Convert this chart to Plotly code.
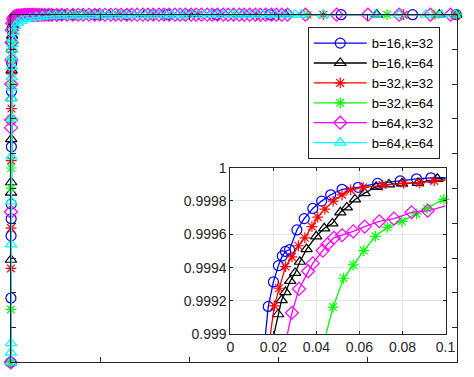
import plotly.graph_objects as go

# ---------------- data ----------------
series_names = ["b=16,k=32", "b=16,k=64", "b=32,k=32", "b=32,k=64", "b=64,k=32", "b=64,k=64"]

b16k32_x = [0, 0.0003, 0.0006, 0.0008, 0.001, 0.0013, 0.0016, 0.002, 0.0025, 0.0035, 0.005, 0.008, 0.011, 0.0150,
            0.0176, 0.0200, 0.0223, 0.0241, 0.0256, 0.0275, 0.0309, 0.0343, 0.0383, 0.0424, 0.0466, 0.0519, 0.0594,
            0.0684, 0.0789, 0.0865, 0.0932,
            0.11, 0.14, 0.19, 0.26, 0.35, 0.46, 0.58, 0.74, 0.90, 0.998]
b16k32_y = [0, 0.185, 0.364, 0.413, 0.455, 0.62, 0.78, 0.86, 0.92, 0.96, 0.98, 0.993, 0.9973, 0.99883,
            0.999167, 0.999314, 0.999412, 0.99947, 0.999497, 0.999508, 0.999626, 0.999694, 0.999755, 0.999799,
            0.999837, 0.99987, 0.999882, 0.999905, 0.99992, 0.999933, 0.999939,
            0.99995, 0.99996, 0.99997, 0.99998, 0.99998, 0.99999, 0.99999, 0.999993, 0.999996, 0.999999]

b16k64_x = [0, 0.0003, 0.0006, 0.0008, 0.001, 0.0014, 0.0018, 0.0023, 0.003, 0.0045, 0.007, 0.011, 0.0150, 0.0185,
            0.0222, 0.0238, 0.0256, 0.0278, 0.0301, 0.0323, 0.0354, 0.0399, 0.0436, 0.0474, 0.0511, 0.0541, 0.0579,
            0.0624, 0.0677, 0.0737, 0.0797, 0.0872, 0.0962,
            0.12, 0.16, 0.22, 0.30, 0.40, 0.52, 0.615, 0.82, 0.96, 0.998]
b16k64_y = [0, 0.295, 0.488, 0.518, 0.642, 0.76, 0.84, 0.90, 0.94, 0.97, 0.988, 0.9965, 0.9982, 0.99890,
            0.99912, 0.999205, 0.999253, 0.99932, 0.999368, 0.999435, 0.999511, 0.999588, 0.999636, 0.999665,
            0.999732, 0.999761, 0.999809, 0.999847, 0.999885, 0.999899, 0.999905, 0.999908, 0.999933,
            0.99994, 0.99995, 0.99996, 0.99997, 0.99998, 0.99998, 0.99999, 0.999993, 0.999997, 0.999999]

b32k32_x = [0, 0.0003, 0.0006, 0.001, 0.0014, 0.0018, 0.0024, 0.0033, 0.005, 0.008, 0.012, 0.0170,
            0.0204, 0.0226, 0.0256, 0.0286, 0.0316, 0.0346, 0.0379, 0.0406, 0.0439, 0.0478, 0.0519, 0.0559,
            0.0617, 0.0707, 0.0805, 0.0880, 0.0947,
            0.11, 0.14, 0.18, 0.24, 0.32, 0.42, 0.55, 0.70, 0.88, 0.995]
b32k32_y = [0, 0.27, 0.386, 0.58, 0.73, 0.83, 0.90, 0.945, 0.975, 0.991, 0.9972, 0.99885,
            0.99917, 0.999276, 0.999406, 0.999464, 0.999531, 0.999579, 0.999646, 0.999703, 0.999751, 0.999799,
            0.999837, 0.999866, 0.999882, 0.999895, 0.999905, 0.999908, 0.99992,
            0.99993, 0.99995, 0.99996, 0.99997, 0.99997, 0.99998, 0.99999, 0.99999, 0.999995, 0.999999]

b32k64_x = [0, 0.0003, 0.0007, 0.0009, 0.0013, 0.0018, 0.0025, 0.0035, 0.005, 0.008, 0.013, 0.02, 0.03, 0.040,
            0.0477, 0.0526, 0.0571, 0.0620, 0.0674, 0.0729, 0.0797, 0.0865, 0.0914, 0.0992,
            0.11, 0.125, 0.145, 0.17, 0.20, 0.25, 0.31, 0.39, 0.50, 0.665, 0.843, 0.95, 0.999]
b32k64_y = [0, 0.152, 0.501, 0.559, 0.70, 0.80, 0.87, 0.92, 0.955, 0.978, 0.991, 0.9965, 0.9982, 0.99878,
            0.999163, 0.999336, 0.999416, 0.999502, 0.999588, 0.999642, 0.999678, 0.999722, 0.999755, 0.999809,
            0.99984, 0.99988, 0.99991, 0.99993, 0.99995, 0.99996, 0.99997, 0.99998, 0.99998, 0.99999,
            0.999995, 0.999998, 0.999999]

b64k32_x = [0, 0.0003, 0.0006, 0.0008, 0.0011, 0.0014, 0.0018, 0.0024, 0.0033, 0.005, 0.008, 0.013, 0.018, 0.024,
            0.0286, 0.0319, 0.0361, 0.0383, 0.0429, 0.0451, 0.0481, 0.0519, 0.0571, 0.0624, 0.0692, 0.0760,
            0.0842, 0.0917,
            0.103, 0.114, 0.126, 0.139, 0.151, 0.162, 0.175, 0.188, 0.199, 0.211, 0.224, 0.235, 0.247, 0.260,
            0.271, 0.283, 0.296, 0.307, 0.319, 0.332, 0.343, 0.355, 0.368, 0.379, 0.391, 0.404, 0.415, 0.427,
            0.440, 0.451, 0.463, 0.476, 0.487, 0.499, 0.512, 0.523, 0.535, 0.548, 0.559, 0.571, 0.584, 0.595,
            0.607, 0.620, 0.66, 0.73, 0.80, 0.87, 0.94, 0.985]
b64k32_y = [0, 0.433, 0.675, 0.697, 0.80, 0.87, 0.92, 0.955, 0.975, 0.988, 0.9945, 0.9975, 0.9983, 0.99885,
            0.999129, 0.999272, 0.999378, 0.999425, 0.999502, 0.99954, 0.999579, 0.999594, 0.999617, 0.999646,
            0.999678, 0.999694, 0.999732, 0.999741,
            0.99978, 0.99980, 0.99982, 0.99984, 0.99985, 0.99986, 0.99987, 0.99988, 0.99989, 0.99990, 0.99990,
            0.99991, 0.99992, 0.99992, 0.99993, 0.99993, 0.99994, 0.99994, 0.99995, 0.99995, 0.99995, 0.99996,
            0.99996, 0.99996, 0.99997, 0.99997, 0.99997, 0.99997, 0.99998, 0.99998, 0.99998, 0.99998, 0.99998,
            0.99998, 0.99999, 0.99999, 0.99999, 0.99999, 0.99999, 0.99999, 0.99999, 0.99999, 0.99999, 0.99999,
            0.999993, 0.999995, 0.999996, 0.999997, 0.999998, 0.999999]

b64k64_x = [0, 0.0002, 0.0004, 0.0007, 0.001, 0.0013, 0.0016, 0.0018, 0.002, 0.0022, 0.0025, 0.0028, 0.003,
            0.0035, 0.004, 0.006, 0.010, 0.016, 0.024, 0.033, 0.043, 0.057, 0.071, 0.086, 0.100,
            0.115, 0.129, 0.144, 0.158, 0.173, 0.187, 0.202, 0.216, 0.231, 0.245, 0.260, 0.274, 0.289, 0.303,
            0.318, 0.332, 0.347, 0.361, 0.376, 0.390, 0.405, 0.419, 0.434, 0.448, 0.463, 0.477, 0.492, 0.506,
            0.521, 0.535, 0.550, 0.564, 0.579, 0.593, 0.608, 0.622, 0.637, 0.651, 0.70, 0.817, 0.87, 0.93,
            0.965, 0.995]
b64k64_y = [0, 0.028, 0.055, 0.339, 0.463, 0.592, 0.70, 0.76, 0.79, 0.82, 0.85, 0.88, 0.90,
            0.915, 0.93, 0.95, 0.968, 0.977, 0.983, 0.987, 0.990, 0.9925, 0.9945, 0.996, 0.9968,
            0.9972, 0.9975, 0.9977, 0.9979, 0.998, 0.9981, 0.9982, 0.9983, 0.9984, 0.9985, 0.9985, 0.9986,
            0.9986, 0.9987, 0.9987, 0.9988, 0.9988, 0.9989, 0.9989, 0.999, 0.999, 0.9991, 0.9991, 0.9991,
            0.9992, 0.9992, 0.9992, 0.9993, 0.9993, 0.9993, 0.9994, 0.9994, 0.9994, 0.9995, 0.9995, 0.9995,
            0.9996, 0.9996, 0.9997, 0.9998, 0.99985, 0.9999, 0.99995, 0.99999]

series_x = [b16k32_x, b16k64_x, b32k32_x, b32k64_x, b64k32_x, b64k64_x]
series_y = [b16k32_y, b16k64_y, b32k32_y, b32k64_y, b64k32_y, b64k64_y]

main_x_ticks = [0, 0.2, 0.4, 0.6, 0.8, 1.0]
main_y_ticks = [0, 0.1, 0.2, 0.3, 0.4, 0.5, 0.6, 0.7, 0.8, 0.9, 1.0]
inset_x_ticks = [0, 0.02, 0.04, 0.06, 0.08, 0.1]
inset_x_labels = ["0", "0.02", "0.04", "0.06", "0.08", "0.1"]
inset_y_ticks = [0.999, 0.9992, 0.9994, 0.9996, 0.9998, 1.0]
inset_y_labels = ["0.999", "0.9992", "0.9994", "0.9996", "0.9998", "1"]

# ---------------- styles ----------------
colors = ["#0000FF", "#000000", "#FF0000", "#00FF00", "#FF00FF", "#00FFFF"]
symbols = ["circle-open", "triangle-up-open", "asterisk-open", "asterisk-open", "diamond-open", "triangle-up-open"]
sizes = [10, 10, 9, 9, 10, 10]

W, H = 474, 377
FONT = "Liberation Sans, Arial, Helvetica, sans-serif"
AX = "#262626"

fig = go.Figure()
for i in range(6):
    for xa, ya, show in (("x", "y", True), ("x2", "y2", False)):
        fig.add_trace(go.Scatter(
            x=series_x[i], y=series_y[i], mode="lines+markers", name=series_names[i],
            xaxis=xa, yaxis=ya, showlegend=show,
            cliponaxis=False,
            line=dict(color=colors[i], width=1.3),
            marker=dict(symbol=symbols[i], size=sizes[i], color=colors[i],
                        line=dict(color=colors[i], width=1.2)),
        ))


def px_x(p):
    return p / W


def px_y(p):
    return 1 - p / H


common = dict(showline=True, linecolor=AX, linewidth=1, mirror="ticks", ticks="inside",
              tickcolor=AX, zeroline=False)

fig.update_layout(
    width=W, height=H, margin=dict(l=0, r=0, t=0, b=0),
    paper_bgcolor="white", plot_bgcolor="white",
    font=dict(family=FONT, size=14, color=AX),
    xaxis=dict(domain=[px_x(7), px_x(467)], range=[0, 1], tickvals=main_x_ticks,
               showticklabels=False, showgrid=False, ticklen=5, anchor="y", **common),
    yaxis=dict(domain=[px_y(370), px_y(7)], range=[0, 1], tickvals=main_y_ticks,
               showticklabels=False, showgrid=False, ticklen=5, anchor="x", **common),
    xaxis2=dict(domain=[px_x(233.3), px_x(455)], range=[0, 0.1], tickvals=inset_x_ticks,
                ticktext=inset_x_labels, showgrid=True, gridcolor="#e4e4e4", gridwidth=1,
                ticklen=3, anchor="y2", tickfont=dict(size=14, color=AX), **common),
    yaxis2=dict(domain=[px_y(340.7), px_y(166.7)], range=[0.999, 1.0], tickvals=inset_y_ticks,
                ticktext=inset_y_labels, showgrid=True, gridcolor="#e4e4e4", gridwidth=1,
                ticklen=3, anchor="x2", tickfont=dict(size=14, color=AX), **common),
    legend=dict(x=px_x(313), y=px_y(20), xanchor="left", yanchor="top",
                bgcolor="white", bordercolor=AX, borderwidth=1, itemwidth=53,
                font=dict(family=FONT, size=13, color="#000000"),
                traceorder="normal"),
    showlegend=True,
)

# the page body has a default 8px margin; remove it so the figure sits at the window's corner
fig.write_html("out.html", config={"displayModeBar": False},
               post_script="document.body.style.margin='0px';")
